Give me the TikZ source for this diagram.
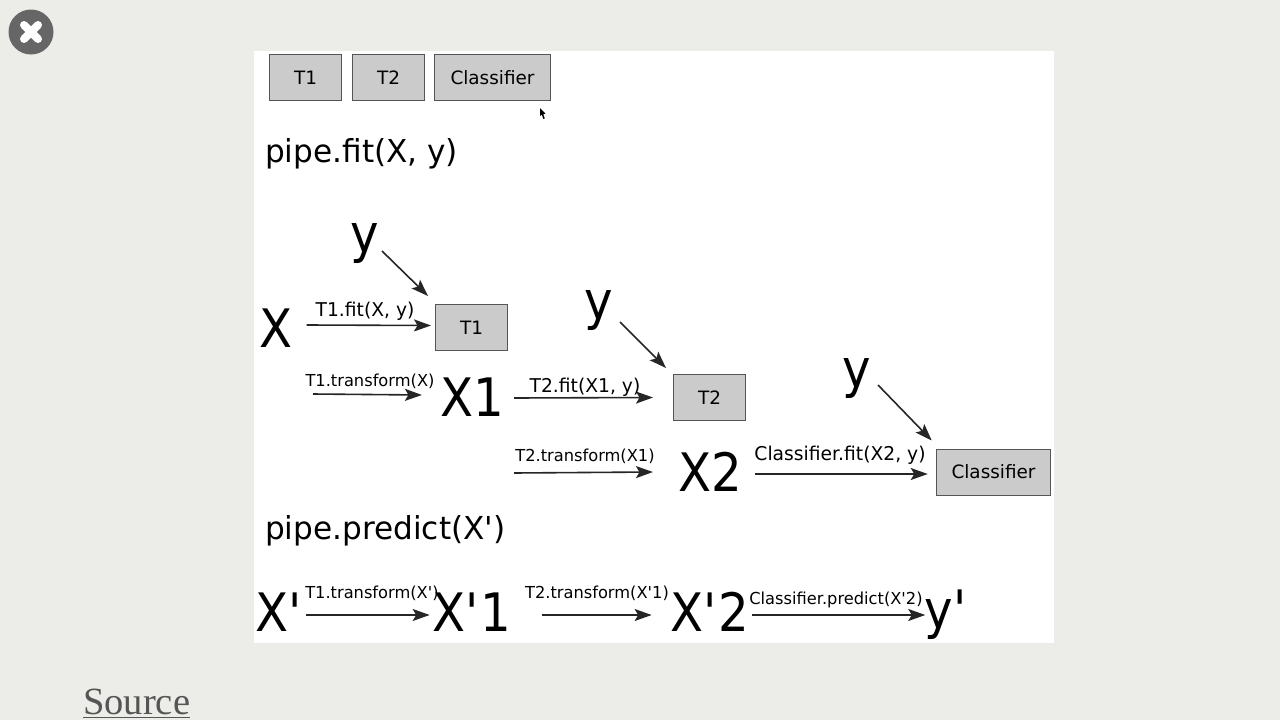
\documentclass[tikz,border=0pt]{standalone}
\usepackage{fontspec}
\setmainfont{DejaVu Sans}
\newfontfamily\sourcefont{Liberation Serif}
\newfontfamily\smallfont[FakeStretch=0.985]{DejaVu Sans}
\newfontfamily\bigfont[FakeStretch=0.91]{DejaVu Sans}
\usetikzlibrary{arrows.meta,positioning}
\definecolor{pagebg}{HTML}{ECEDE8}
\definecolor{boxfill}{HTML}{CBCBCB}
\definecolor{boxline}{HTML}{555555}
\definecolor{closegray}{HTML}{666666}
\definecolor{sourcegray}{HTML}{555555}
\newcommand{\prm}{\textquotesingle}
\tikzset{
    boxnode/.style={draw=boxline, fill=boxfill, line width=1pt, rectangle, minimum height=46pt, inner sep=0pt, font=\fontsize{18.4}{22}\selectfont},
    bigtext/.style={inner sep=0pt, font=\bigfont\fontsize{53}{60}\selectfont},
    headtext/.style={inner sep=0pt, anchor=base west, font=\smallfont\fontsize{31.6}{38}\selectfont},
    fitlabel/.style={inner sep=0pt, font=\smallfont\fontsize{19}{23}\selectfont},
    translabel/.style={inner sep=0pt, font=\smallfont\fontsize{16.5}{20}\selectfont},
    flow/.style={-{Stealth[length=17pt,width=12pt,inset=3.5pt]}, line width=1.6pt, color=black!85}
}

\begin{document}
\begin{tikzpicture}[x=1pt, y=-1pt, node distance=83pt]
    \fill[pagebg] (0,0) rectangle (1280,720);
    \useasboundingbox (0,0) rectangle (1280,720);
    \fill[white] (254,51) rectangle (1054,643);

    % close button
    \fill[closegray] (31,32) circle (22.5);
    \draw[white, line width=8pt, line cap=round] (24,25) -- (38,39);
    \draw[white, line width=8pt, line cap=round] (38,25) -- (24,39);

    % mouse pointer
    \fill[black] (540,108) -- (540,116) -- (541.8,114.6) -- (543.4,119) -- (544.8,118.4) -- (543.2,114.2) -- (545.4,113.6) -- cycle;

    % pipeline at the top
    \node (topT1) [boxnode, minimum width=72pt] at (305.5,77.5) {T1};
    \node (topT2) [boxnode, minimum width=72pt, right of=topT1] {T2};
    \node (topClf) [boxnode, minimum width=115.5pt, right of=topT2, xshift=21pt] {Classifier};

    \node (fitHead) [headtext] at (265,162) {pipe.fit(X, y)};
    \node (predictHead) [headtext] at (265,539.5) {pipe.predict(X\prm)};

    % fit
    \node (y1) [bigtext] at (365,244) {y};
    \node (X) [bigtext] at (276,328) {X};
    \node (T1) [boxnode, minimum width=72pt] at (471.5,327.5) {T1};
    \node (X1) [bigtext] at (472,397) {X1};
    \node (y2) [bigtext] at (599,311) {y};
    \node (T2) [boxnode, minimum width=72pt] at (709.5,397.5) {T2};
    \node (X2) [bigtext] at (710,472) {X2};
    \node (y3) [bigtext] at (857,379) {y};
    \node (Clf) [boxnode, minimum width=114.5pt] at (993.5,472) {Classifier};

    \coordinate (T1out) at (313,394);
    \coordinate (T2out) at (514,473);

    \draw [flow] ([shift={(17,7)}]y1.center) -- ([shift={(-7,-8)}]T1.north west);
    \draw [flow] ([shift={(14,-3)}]X.east) -- ([shift={(-4,-2)}]T1.west);
    \draw [flow] (T1out) -- ([shift={(-18,-2)}]X1.west);
    \draw [flow] ([shift={(10,1)}]X1.east) -- ([shift={(-20,0)}]T2.west);
    \draw [flow] ([shift={(21,11)}]y2.center) -- ([shift={(-7,-6)}]T2.north west);
    \draw [flow] (T2out) -- ([shift={(-25,0)}]X2.west);
    \draw [flow] ([shift={(13,2)}]X2.east) -- ([shift={(-8,2)}]Clf.west);
    \draw [flow] ([shift={(21,6)}]y3.center) -- ([shift={(-4,-8)}]Clf.north west);

    \node (fitT1) [fitlabel] at (365,311) {T1.fit(X, y)};
    \node (transT1) [translabel] at (370,381) {T1.transform(X)};
    \node (fitT2) [fitlabel] at (585,387) {T2.fit(X1, y)};
    \node (transT2) [translabel] at (585,456) {T2.transform(X1)};
    \node (fitClf) [fitlabel] at (840,455.5) {Classifier.fit(X2, y)};

    % predict
    \node (Xp) [bigtext] at (279,612) {X\prm};
    \node (Xp1) [bigtext] at (472,612) {X\prm1};
    \node (Xp2) [bigtext] at (710,612) {X\prm2};
    \node (yp) [bigtext] at (946,615) {y\prm};

    \draw [flow] ([shift={(3,3)}]Xp.east) -- ([shift={(-3,3)}]Xp1.west);
    \draw [flow] ([shift={(31,3)}]Xp1.east) -- ([shift={(-19,3)}]Xp2.west);
    \draw [flow] ([shift={(3,3)}]Xp2.east) -- ([shift={(1,0)}]yp.west);

    \node (transXp) [translabel] at (372,593) {T1.transform(X\prm)};
    \node (transXp1) [translabel] at (597,593) {T2.transform(X\prm1)};
    \node (predClf) [translabel] at (836,599.5) {Classifier.predict(X\prm2)};

    % link under the picture
    \node (source) [inner sep=0pt, anchor=base west, text=sourcegray, font=\sourcefont\fontsize{38.5}{44}\selectfont] at (83,714) {Source};
    \draw [sourcegray, line width=1.6pt] ([yshift=-3.5pt]source.base west) -- ([yshift=-3.5pt]source.base east);
\end{tikzpicture}
\end{document}
